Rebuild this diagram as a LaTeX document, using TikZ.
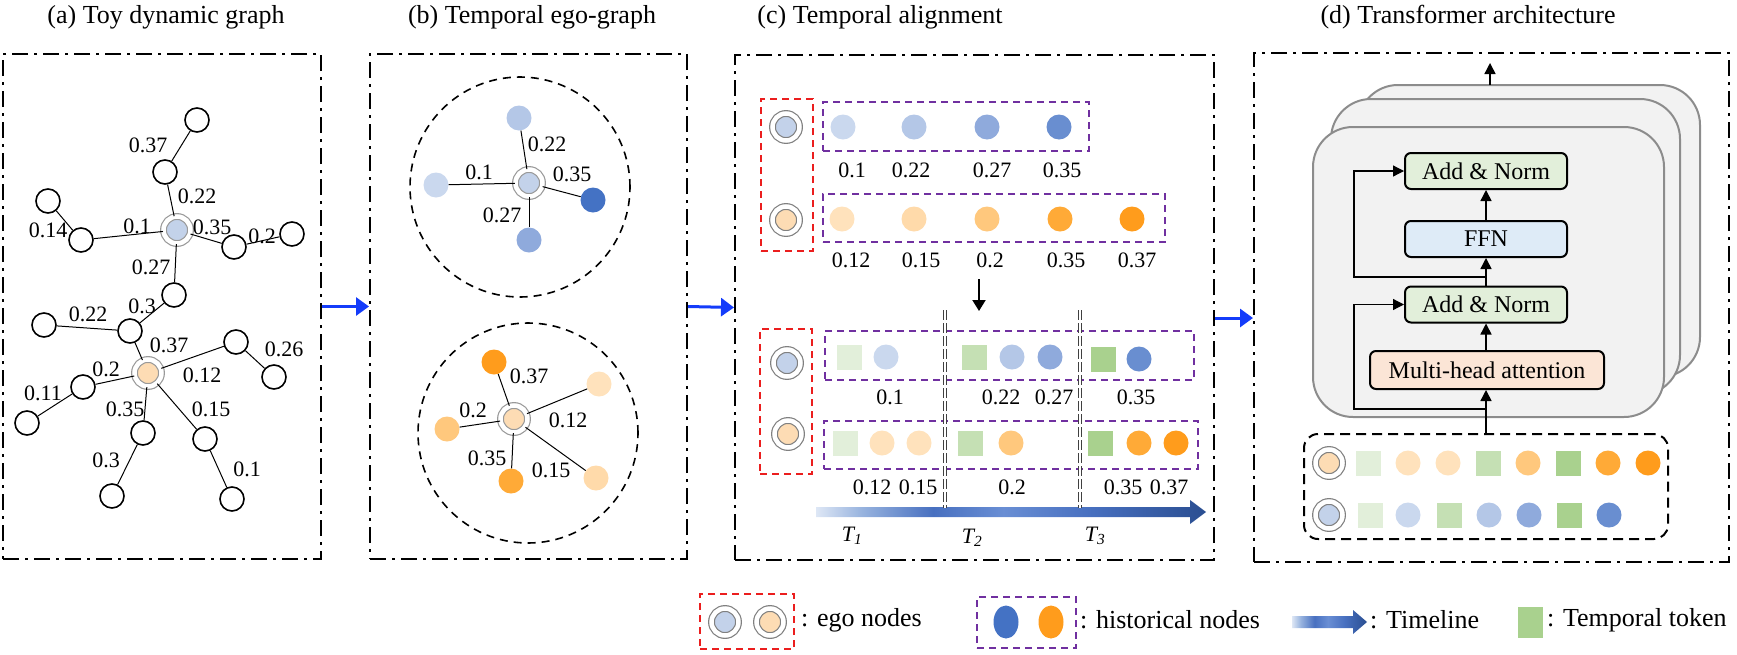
\documentclass[tikz,border=0pt]{standalone}
\usepackage{fontspec}
\setmainfont{Liberation Serif}
\usetikzlibrary{arrows.meta,shapes.geometric}

\definecolor{bA}{RGB}{202,216,238}
\definecolor{bB}{RGB}{180,199,231}
\definecolor{bC}{RGB}{143,170,220}
\definecolor{bD}{RGB}{105,142,208}
\definecolor{bE}{RGB}{68,114,196}
\definecolor{oA}{RGB}{255,226,188}
\definecolor{oB}{RGB}{255,218,170}
\definecolor{oC}{RGB}{255,200,125}
\definecolor{oD}{RGB}{255,170,55}
\definecolor{oE}{RGB}{255,156,28}
\definecolor{gA}{RGB}{226,239,218}
\definecolor{gB}{RGB}{197,224,180}
\definecolor{gC}{RGB}{169,209,142}
\definecolor{egoB}{RGB}{195,210,234}
\definecolor{egoO}{RGB}{253,220,180}
\definecolor{egored}{RGB}{235,30,30}
\definecolor{histpurple}{RGB}{112,48,160}
\definecolor{flowblue}{RGB}{20,60,250}
\definecolor{cardfill}{RGB}{242,242,242}
\definecolor{cardgray}{RGB}{140,140,140}
\definecolor{mhafill}{RGB}{251,229,214}
\definecolor{ffnfill}{RGB}{222,235,247}
\definecolor{addfill}{RGB}{226,239,218}
\definecolor{tlA}{RGB}{222,231,245}
\definecolor{tlAB}{RGB}{150,178,222}
\definecolor{tlB}{RGB}{72,112,192}
\definecolor{tlM}{RGB}{105,142,212}
\definecolor{tlC}{RGB}{42,78,145}

\pgfdeclarehorizontalshading{timeline}{100bp}{color(0bp)=(tlA); color(25bp)=(tlA); color(31bp)=(tlAB); color(40bp)=(tlB); color(49bp)=(tlM); color(60bp)=(tlB); color(75bp)=(tlC); color(100bp)=(tlC)}

\tikzset{
  panel/.style={draw, line width=2pt, dash pattern=on 16pt off 6pt on 3pt off 6pt, inner sep=0pt},
  blank/.style={circle, draw, line width=1.6pt, minimum size=24pt, inner sep=0pt},
  ego/.style={circle, draw=gray, line width=1.2pt, double=white, double distance=4.5pt, minimum size=27pt, inner sep=0pt},
  hist/.style={circle, minimum size=25pt, inner sep=0pt},
  tok/.style={rectangle, minimum size=25pt, inner sep=0pt},
  link/.style={line width=1pt},
  num/.style={font=\fontsize{22}{26}\selectfont, inner sep=0pt},
  paneltitle/.style={font=\fontsize{26}{30}\selectfont, inner sep=0pt},
  egocirc/.style={circle, draw, line width=1.6pt, dash pattern=on 8pt off 6pt, minimum size=220pt, inner sep=0pt},
  egobox/.style={draw=egored, line width=1.8pt, dash pattern=on 7pt off 5pt, inner sep=0pt},
  histbox/.style={draw=histpurple, line width=1.8pt, dash pattern=on 7pt off 5pt, inner sep=0pt},
  flow/.style={draw=flowblue, line width=3pt, -{Triangle[length=13pt,width=18pt]}},
  card/.style={draw=cardgray, fill=cardfill, line width=2pt, rounded corners=40pt, inner sep=0pt},
  block/.style={draw, line width=2pt, rounded corners=6pt, minimum width=162pt, minimum height=36pt, inner sep=0pt, font=\fontsize{24}{28}\selectfont},
  uparrow/.style={line width=1.5pt, -{Triangle[length=11pt,width=11pt]}},
  res/.style={line width=1.2pt, -{Triangle[length=11pt,width=11pt]}},
  splitline/.style={draw=black!75, line width=1pt, double=white, double distance=2pt, dash pattern=on 10pt off 3pt},
}

\begin{document}
\begin{tikzpicture}[x=1pt,y=-1pt]

  \useasboundingbox (0,0) rectangle (1737,654);

  % panels
  \node[panel, minimum width=318pt, minimum height=505pt] (fa) at (162,306.5) {};
  \node[panel, minimum width=317pt, minimum height=505pt] (fb) at (528.5,306.5) {};
  \node[panel, minimum width=479pt, minimum height=505pt] (fc) at (974.5,307.5) {};
  \node[panel, minimum width=475pt, minimum height=509pt] (fd) at (1491.5,307.5) {};

  \node[paneltitle] (ta) at (166,17) {(a) Toy dynamic graph};
  \node[paneltitle] (tb) at (532,17) {(b) Temporal ego-graph};
  \node[paneltitle] (tc) at (880,17) {(c) Temporal alignment};
  \node[paneltitle] (td) at (1468,17) {(d) Transformer architecture};

  \draw[flow] (fa.east) -- (fb.west);
  \draw[flow] (fb.east) -- (fc.west);
  \draw[flow] ([yshift=-10.5pt]fc.east) -- ([yshift=-10.5pt]fd.west);

  % (a) toy graph
  \node[blank] (a1) at (197,120) {};
  \node[blank] (a2) at (165,172) {};
  \node[ego, fill=egoB, draw=gray!80] (ab) at (177,230) {};
  \node[blank] (a3) at (48,201) {};
  \node[blank] (a4) at (81,240) {};
  \node[blank] (a5) at (234,247) {};
  \node[blank] (a6) at (292,234) {};
  \node[blank] (a7) at (174,295) {};
  \node[blank] (a8) at (130,331) {};
  \node[blank] (a9) at (44,325) {};
  \node[blank] (a10) at (236,342) {};
  \node[blank] (a11) at (274,377) {};
  \node[ego, fill=egoO, draw=gray!80] (ao) at (148,373) {};
  \node[blank] (a12) at (83,387) {};
  \node[blank] (a13) at (27,423) {};
  \node[blank] (a14) at (143,433) {};
  \node[blank] (a15) at (205,439) {};
  \node[blank] (a16) at (112,496) {};
  \node[blank] (a17) at (232,499) {};

  \draw[link] (a1) -- (a2);
  \draw[link] (a2) -- (ab);
  \draw[link] (a3) -- (a4);
  \draw[link] (a4) -- (ab);
  \draw[link] (ab) -- (a5);
  \draw[link] (a5) -- (a6);
  \draw[link] (ab) -- (a7);
  \draw[link] (a7) -- (a8);
  \draw[link] (a8) -- (a9);
  \draw[link] (a8) -- (ao);
  \draw[link] (ao) -- (a10);
  \draw[link] (a10) -- (a11);
  \draw[link] (ao) -- (a12);
  \draw[link] (a12) -- (a13);
  \draw[link] (ao) -- (a14);
  \draw[link] (ao) -- (a15);
  \draw[link] (a14) -- (a16);
  \draw[link] (a15) -- (a17);

  \node[num] (la1) at (148,145) {0.37};
  \node[num] (la2) at (197,196) {0.22};
  \node[num] (la3) at (48,230) {0.14};
  \node[num] (la4) at (137,226) {0.1};
  \node[num] (la5) at (212,227) {0.35};
  \node[num] (la6) at (262,236) {0.2};
  \node[num] (la7) at (151,267) {0.27};
  \node[num] (la8) at (142,306) {0.3};
  \node[num] (la9) at (88,314) {0.22};
  \node[num] (la10) at (169,345) {0.37};
  \node[num] (la11) at (202,375) {0.12};
  \node[num] (la12) at (284,349) {0.26};
  \node[num] (la13) at (106,369) {0.2};
  \node[num] (la14) at (43,393) {0.11};
  \node[num] (la15) at (125,409) {0.35};
  \node[num] (la16) at (211,409) {0.15};
  \node[num] (la17) at (106,460) {0.3};
  \node[num] (la18) at (247,469) {0.1};

  % (b) ego-graphs
  \node[egocirc] (bc1) at (520,187) {};
  \node[egocirc] (bc2) at (528,433) {};

  \node[ego, fill=egoB, draw=gray!80] (bb) at (529,183) {};
  \node[hist, fill=bB] (bb1) at (519,118) {};
  \node[hist, fill=bA] (bb2) at (436,185) {};
  \node[hist, fill=bE] (bb3) at (593,200) {};
  \node[hist, fill=bC] (bb4) at (529,240) {};
  \draw[link] (bb) -- (bb1);
  \draw[link] (bb) -- (bb2);
  \draw[link] (bb) -- (bb3);
  \draw[link] (bb) -- (bb4);
  \node[num] (lb1) at (547,144) {0.22};
  \node[num] (lb2) at (479,172) {0.1};
  \node[num] (lb3) at (572,174) {0.35};
  \node[num] (lb4) at (502,215) {0.27};

  \node[ego, fill=egoO, draw=gray!80] (bo) at (514,419) {};
  \node[hist, fill=oE] (bo1) at (494,362) {};
  \node[hist, fill=oC] (bo2) at (447,429) {};
  \node[hist, fill=oA] (bo3) at (599,384) {};
  \node[hist, fill=oD] (bo4) at (511,481) {};
  \node[hist, fill=oB] (bo5) at (596,478) {};
  \draw[link] (bo) -- (bo1);
  \draw[link] (bo) -- (bo2);
  \draw[link] (bo) -- (bo3);
  \draw[link] (bo) -- (bo4);
  \draw[link] (bo) -- (bo5);
  \node[num] (lo1) at (529,376) {0.37};
  \node[num] (lo2) at (473,410) {0.2};
  \node[num] (lo3) at (568,420) {0.12};
  \node[num] (lo4) at (487,458) {0.35};
  \node[num] (lo5) at (551,470) {0.15};

  % (c) alignment
  \node[egobox, minimum width=52pt, minimum height=152pt] (rc1) at (787,175) {};
  \node[ego, fill=egoB] (cb) at (786,127) {};
  \node[ego, fill=egoO] (co) at (786,220) {};
  \node[histbox, minimum width=266pt, minimum height=49pt] (pc1) at (956,126.5) {};
  \node[histbox, minimum width=342pt, minimum height=48pt] (pc2) at (994,218) {};

  \node[hist, fill=bA] (c11) at (843,127) {};
  \node[hist, fill=bB] (c12) at (914,127) {};
  \node[hist, fill=bC] (c13) at (987,127) {};
  \node[hist, fill=bD] (c14) at (1059,127) {};
  \node[num] at (852,170) {0.1};
  \node[num] at (911,170) {0.22};
  \node[num] at (992,170) {0.27};
  \node[num] at (1062,170) {0.35};

  \node[hist, fill=oA] (c21) at (842,219) {};
  \node[hist, fill=oB] (c22) at (914,219) {};
  \node[hist, fill=oC] (c23) at (987,219) {};
  \node[hist, fill=oD] (c24) at (1060,219) {};
  \node[hist, fill=oE] (c25) at (1132,219) {};
  \node[num] at (851,260) {0.12};
  \node[num] at (921,260) {0.15};
  \node[num] at (990,260) {0.2};
  \node[num] at (1066,260) {0.35};
  \node[num] at (1137,260) {0.37};

  \coordinate (dtop) at (979,279);
  \coordinate (dbot) at (979,311);
  \draw[line width=2pt, -{Triangle[length=11pt,width=13pt]}] (dtop) -- (dbot);

  \node[egobox, minimum width=52pt, minimum height=145pt] (rc2) at (786,401.5) {};
  \node[ego, fill=egoB] (cb2) at (787,363) {};
  \node[ego, fill=egoO] (co2) at (788,434) {};
  \node[histbox, minimum width=369pt, minimum height=49pt] (pc3) at (1009.5,355.5) {};
  \node[histbox, minimum width=374pt, minimum height=48pt] (pc4) at (1011,445) {};

  \node[tok, fill=gA] (c31) at (849,357) {};
  \node[hist, fill=bA] (c32) at (886,357) {};
  \node[tok, fill=gB] (c33) at (974,357) {};
  \node[hist, fill=bB] (c34) at (1012,357) {};
  \node[hist, fill=bC] (c35) at (1050,357) {};
  \node[tok, fill=gC] (c36) at (1103,359) {};
  \node[hist, fill=bD] (c37) at (1139,359) {};
  \node[num] at (890,397) {0.1};
  \node[num] at (1001,397) {0.22};
  \node[num] at (1054,397) {0.27};
  \node[num] at (1136,397) {0.35};

  \node[tok, fill=gA] (c41) at (845,443) {};
  \node[hist, fill=oA] (c42) at (882,443) {};
  \node[hist, fill=oA] (c43) at (919,443) {};
  \node[tok, fill=gB] (c44) at (970,443) {};
  \node[hist, fill=oC] (c45) at (1011,443) {};
  \node[tok, fill=gC] (c46) at (1100,443) {};
  \node[hist, fill=oD] (c47) at (1139,443) {};
  \node[hist, fill=oE] (c48) at (1176,443) {};
  \node[num] at (872,487) {0.12};
  \node[num] at (918,487) {0.15};
  \node[num] at (1012,487) {0.2};
  \node[num] at (1123,487) {0.35};
  \node[num] at (1169,487) {0.37};

  % timeline
  \shade[shading=timeline]
    (816,507) -- (1190,507) -- (1190,500) -- (1206,512) -- (1190,524)
    -- (1190,517) -- (816,517) -- cycle;
  \coordinate (s1t) at (945,310);
  \coordinate (s1b) at (945,508);
  \coordinate (s2t) at (1080,310);
  \coordinate (s2b) at (1080,508);
  \draw[splitline] (s1t) -- (s1b);
  \draw[splitline] (s2t) -- (s2b);
  \node[num] (t1) at (852,536) {\textit{T\textsubscript{1}}};
  \node[num] (t2) at (972,538) {\textit{T\textsubscript{2}}};
  \node[num] (t3) at (1095,536) {\textit{T\textsubscript{3}}};

  % (d) transformer
  \node[card, minimum width=342pt, minimum height=292pt] (layer3) at (1529,231) {};
  \node[card, minimum width=349pt, minimum height=296pt] (layer2) at (1505.5,247) {};
  \node[card, minimum width=351pt, minimum height=290pt] (layer1) at (1488.5,272) {};

  \node[block, fill=addfill] (an2) at (1486,171) {Add \& Norm};
  \node[block, fill=ffnfill] (ffn) at (1486,239) {FFN};
  \node[block, fill=addfill] (an1) at (1486,304.5) {Add \& Norm};
  \node[block, fill=mhafill, minimum width=234pt, minimum height=38pt] (mha) at (1487,370) {Multi-head attention};

  \draw[uparrow] (mha.north -| an1.south) -- (an1.south);
  \draw[uparrow] (an1.north) -- (ffn.south);
  \draw[uparrow] (ffn.north) -- (an2.south);

  \coordinate (r1) at (1486,277);
  \coordinate (r2) at (1486,409);
  \draw[res] (r1) -| ([xshift=-50pt]an2.west) -- (an2.west);
  \draw[res] (r2) -| ([xshift=-50pt]an1.west) -- (an1.west);

  \coordinate (outb) at (1490,85);
  \coordinate (outt) at (1490,63);
  \draw[uparrow] (outb) -- (outt);

  \node[draw, line width=2pt, dash pattern=on 10pt off 6pt, rounded corners=14pt,
        minimum width=364pt, minimum height=105pt, inner sep=0pt] (seq) at (1486,486.5) {};
  \draw[uparrow] (seq.north) -- (seq.north |- mha.south);

  \node[ego, fill=egoO] (d0) at (1329,463) {};
  \node[tok, fill=gA] (d1) at (1368,463) {};
  \node[hist, fill=oA] (d2) at (1408,463) {};
  \node[hist, fill=oA] (d3) at (1448,463) {};
  \node[tok, fill=gB] (d4) at (1488,463) {};
  \node[hist, fill=oC] (d5) at (1528,463) {};
  \node[tok, fill=gC] (d6) at (1568,463) {};
  \node[hist, fill=oD] (d7) at (1608,463) {};
  \node[hist, fill=oE] (d8) at (1648,463) {};

  \node[ego, fill=egoB] (e0) at (1329,515) {};
  \node[tok, fill=gA] (e1) at (1370,515) {};
  \node[hist, fill=bA] (e2) at (1408,515) {};
  \node[tok, fill=gB] (e3) at (1449,515) {};
  \node[hist, fill=bB] (e4) at (1489,515) {};
  \node[hist, fill=bC] (e5) at (1529,515) {};
  \node[tok, fill=gC] (e6) at (1569,515) {};
  \node[hist, fill=bD] (e7) at (1609,515) {};

  % legend
  \node[egobox, minimum width=94pt, minimum height=55pt] (kego) at (747,621.5) {};
  \node[ego, fill=egoB] (kegob) at (725,622) {};
  \node[ego, fill=egoO] (kegoo) at (770,622) {};
  \node[paneltitle, anchor=west] (kegot) at (801,620) {: ego nodes};

  \node[histbox, minimum width=99pt, minimum height=51pt] (khist) at (1026.5,622.5) {};
  \node[ellipse, fill=bE, minimum width=25pt, minimum height=33pt, inner sep=0pt] (khb) at (1006,622) {};
  \node[ellipse, fill=oE, minimum width=25pt, minimum height=33pt, inner sep=0pt] (kho) at (1051,622) {};
  \node[paneltitle, anchor=west] (khistt) at (1080,620) {: historical nodes};

  \shade[shading=timeline]
    (1292,616) -- (1353,616) -- (1353,610) -- (1367,622) -- (1353,634)
    -- (1353,628) -- (1292,628) -- cycle;
  \node[paneltitle, anchor=west] (ktlt) at (1370,620) {: Timeline};

  \node[tok, fill=gC, minimum width=25pt, minimum height=31pt] (ktok) at (1530,622) {};
  \node[paneltitle, anchor=west] (ktokt) at (1547,620) {: Temporal token};

\end{tikzpicture}
\end{document}
